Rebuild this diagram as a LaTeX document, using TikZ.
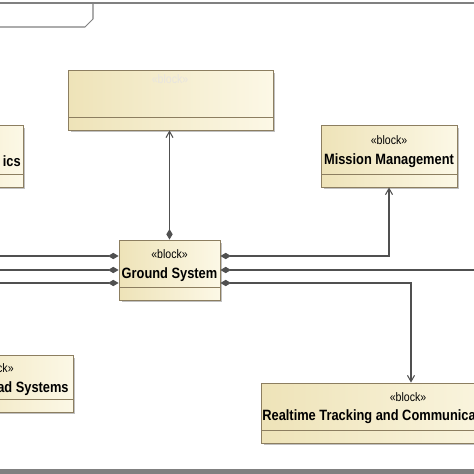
\documentclass[tikz,border=0pt]{standalone}
\usepackage{fontspec}
\setmainfont{Liberation Sans}
\newfontfamily\narrowfont[FakeStretch=0.86]{Liberation Sans}
\usetikzlibrary{arrows.meta, calc, shadows}
\definecolor{blockedge}{RGB}{140, 126, 96}
\definecolor{blockleft}{RGB}{238, 227, 184}
\definecolor{blockright}{RGB}{252, 248, 230}
\definecolor{linegray}{RGB}{80, 80, 80}
\definecolor{framegray}{RGB}{128, 128, 128}
\newcommand{\blk}[1]{{\fontsize{7}{8}\selectfont «block»}\\[2.5pt]\textbf{#1}\rule[-7pt]{0pt}{7pt}}

\begin{document}
\begin{tikzpicture}[x=0.02cm, y=-0.02cm,
  block/.style={draw=blockedge, line width=0.5pt, left color=blockleft, right color=blockright,
    drop shadow={shadow xshift=0.05cm, shadow yshift=-0.05cm, opacity=0.35, fill=black!70},
    align=center, font=\narrowfont\fontsize{8.5}{9}\selectfont, inner sep=0pt,
    path picture={\draw[blockedge, line width=0.5pt] ([yshift=0.25cm]path picture bounding box.south west) -- ([yshift=0.25cm]path picture bounding box.south east);}},
  stereo/.style={font=\narrowfont\fontsize{7}{8}\selectfont, inner sep=0pt},
  bname/.style={font=\narrowfont\fontsize{8.5}{9}\selectfont\bfseries, inner sep=0pt},
  link/.style={draw=linegray, line width=0.6pt},
  whole/.style={link, arrows={Diamond[length=6pt,width=3.6pt]-}},
  part/.style={link, arrows={Diamond[length=6pt,width=3.6pt]-Straight Barb[length=3.5pt,width=4pt]}}]
  \useasboundingbox (0,0) rectangle (474,474);
  \clip (0,0) rectangle (474,474);

  % Diagram frame
  \draw[framegray, line width=1.2pt] (0,3) -- (474,3);
  \draw[framegray, line width=0.6pt] (0,27) -- (85,27) -- (93,19) -- (93,3);
  \fill[framegray] (0,469) rectangle (474,474);

  % Faded block on top
  \node[block, minimum width=4.1cm, minimum height=1.2cm] (bus) at (170.5,100) {};
  \node[stereo, text=blockedge!20] (bus-st) at (170,79) {«block»};

  % Left block (cut off)
  \node[block, minimum width=2.46cm, minimum height=1.24cm] (avio) at (-38.5,156) {};
  \node[bname, anchor=east] (avio-name) at (21,161) {ics};

  % Mission Management
  \node[block, minimum width=2.72cm, minimum height=1.24cm] (mm) at (389,156) {\blk{Mission Management}};

  % Ground System
  \node[block, minimum width=2.02cm, minimum height=1.2cm] (gs) at (169.5,270) {\blk{Ground System}};

  % Payload Systems (cut off)
  \node[block, minimum width=2.66cm, minimum height=1.14cm] (pl) at (6.5,383.5) {};
  \node[stereo, anchor=east] (pl-st) at (14,368) {ck»};
  \node[bname, anchor=east] (pl-name) at (69,389) {ad Systems};

  % Realtime Tracking and Communications (cut off)
  \node[block, minimum width=5.38cm, minimum height=1.2cm] (rt) at (395.5,413) {};
  \node[stereo] (rt-st) at (408,397) {«block»};
  \node[bname, anchor=west] (rt-name) at (262,417) {Realtime Tracking and Communica};

  % Free ends off the picture
  \coordinate (west1) at (-10,256);
  \coordinate (west2) at (-10,270);
  \coordinate (west3) at (-10,283);
  \coordinate (east2) at (490,270);

  % Connectors
  \draw[part] (gs.north) -- (gs.north |- bus.south);
  \draw[whole] (gs.west |- west1) -- (west1);
  \draw[whole] (gs.west |- west2) -- (west2);
  \draw[whole] (gs.west |- west3) -- (west3);
  \draw[part] ($(gs.east)+(0,-14)$) -| (mm.south);
  \draw[whole] (gs.east) -- (east2);
  \draw[part] ($(gs.east)+(0,13)$) -| ([xshift=0.31cm]rt.north);
\end{tikzpicture}
\end{document}
